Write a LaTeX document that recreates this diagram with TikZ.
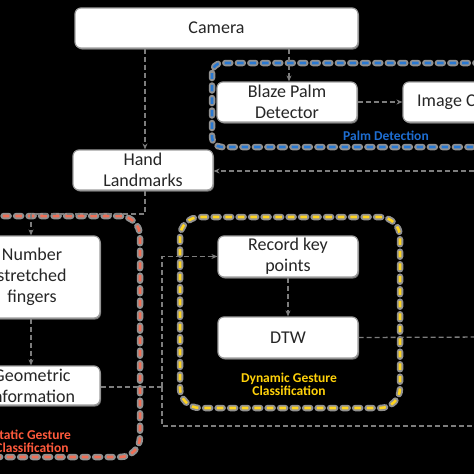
\documentclass[tikz,border=0pt]{standalone}
\usepackage{fontspec}
\setmainfont{Carlito}
\usetikzlibrary{arrows.meta,shadows}
\definecolor{bluedash}{RGB}{40,120,210}
\definecolor{bluelab}{RGB}{30,110,210}
\definecolor{yeldash}{RGB}{255,212,30}
\definecolor{yellab}{RGB}{255,210,10}
\definecolor{reddash}{RGB}{240,110,85}
\definecolor{redlab}{RGB}{255,90,60}
\definecolor{conncol}{RGB}{125,125,125}
\definecolor{framegray}{RGB}{145,145,145}
\begin{document}
\begin{tikzpicture}[x=1pt,y=-1pt,
  box/.style={draw=gray!75, line width=1.2pt, fill=white, rounded corners=6pt,
    font=\fontsize{18}{21}\selectfont, text=black!85, align=center, inner sep=0pt,
    drop shadow={shadow xshift=1pt, shadow yshift=-1.5pt, fill=gray, opacity=0.9}},
  boxtext/.style={font=\fontsize{18}{21}\selectfont, text=black!85, inner sep=0pt},
  conn/.style={draw=conncol, line width=1.3pt, dash pattern=on 5pt off 3pt},
  arr/.style={conn, -{Stealth[length=6pt,width=5pt]}},
  framebase/.style={draw=framegray, line width=6.5pt, line cap=round, dash pattern=on 5pt off 7.5pt},
  framecore/.style={line width=2.6pt, dash pattern=on 6.5pt off 6pt, dash phase=0.75pt},
  grouplab/.style={font=\fontsize{13.5}{13}\selectfont\bfseries, align=center, inner sep=0pt}
]
\useasboundingbox (0,0) rectangle (474,474);
\fill[black] (0,0) rectangle (474,474);
\clip (0,0) rectangle (474,474);

% group frames
\draw[framebase, rounded corners=10pt] (212,63) rectangle (530,147);
\draw[framecore, draw=bluedash, rounded corners=10pt] (212,63) rectangle (530,147);
\draw[framebase, rounded corners=20pt] (-30,216) rectangle (140,457);
\draw[framecore, draw=reddash, rounded corners=20pt] (-30,216) rectangle (140,457);
\draw[framebase, rounded corners=20pt] (180,217) rectangle (400,408);
\draw[framecore, draw=yeldash, rounded corners=20pt] (180,217) rectangle (400,408);

% group labels
\node[grouplab, text=bluelab] (lpalm) at (386,136) {Palm Detection};
\node[grouplab, text=yellab] (ldyn) at (289,384.5) {Dynamic Gesture\\Classification};
\node[grouplab, text=redlab] (lstat) at (32,441) {Static Gesture\\Classification};

% boxes
\node[box, minimum width=283pt, minimum height=40pt] (cam) at (216.5,28) {Camera};
\node[box, minimum width=140pt, minimum height=40pt] (hand) at (143,170) {Hand\\Landmarks};
\node[box, minimum width=140pt, minimum height=40pt] (blaze) at (287,102) {Blaze Palm\\Detector};
\node[box, minimum width=140pt, minimum height=40pt] (img) at (473,102) {};
\node[boxtext, anchor=west] (imgtxt) at (417,102) {Image C};
\node[box, minimum width=136pt, minimum height=82pt] (num) at (32,277) {Number\\stretched\\fingers};
\node[box, minimum width=136pt, minimum height=39pt] (geo) at (32,385.5) {Geometric\\information};
\node[box, minimum width=140pt, minimum height=41pt] (rec) at (288,256.5) {Record key\\points};
\node[box, minimum width=140pt, minimum height=41pt] (dtw) at (288,337.5) {DTW};

% helper coordinates
\coordinate (j1) at (145,214);
\coordinate (j2) at (31,214);
\coordinate (jg) at (162,387);
\coordinate (outA) at (490,171);
\coordinate (outB) at (490,426);
\coordinate (outC) at (490,337);

% connectors
\draw[arr] (cam.south -| hand.north) ++(2,0) coordinate (c1) -- (c1 |- hand.north);
\draw[arr] (cam.south -| 289,0) coordinate (c2) -- (c2 |- blaze.north);
\draw[arr] (blaze.east) -- (img.west);
\draw[arr] (outA) -- (outA -| hand.east);
\draw[conn] (hand.south -| j1) -- (j1) -- (j2);
\draw[arr] (j2) -- (j2 |- num.north);
\draw[arr] (num.south -| 31,0) coordinate (c3) -- (c3 |- geo.north);
\draw[conn] (geo.east |- jg) -- (jg);
\draw[arr] (jg) |- (rec.west);
\draw[conn] (jg) |- (outB);
\draw[arr] (rec.south) -- (dtw.north);
\draw[conn] (dtw.east) -- (outC);
\end{tikzpicture}
\end{document}
